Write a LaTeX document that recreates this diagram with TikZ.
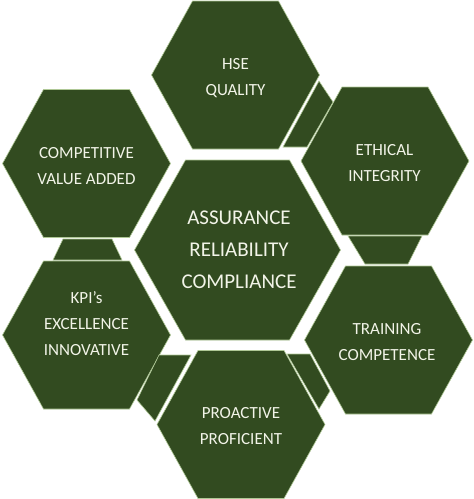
\documentclass[tikz,border=0pt]{standalone}
\usepackage{fontspec}
\setmainfont{Carlito}
\definecolor{hexgreen}{RGB}{50,75,32}
\definecolor{hexline}{RGB}{175,200,150}
\definecolor{hextext}{RGB}{242,244,232}
\begin{document}
\begin{tikzpicture}[x=1pt,y=-1pt,
  hexfill/.style={fill=hexgreen,draw=hexline,line width=0.6pt,line join=miter},
  outertext/.style={text=hextext,align=center,font=\fontsize{17}{26}\selectfont,inner sep=0pt},
  centertext/.style={text=hextext,align=center,font=\fontsize{21}{32}\selectfont,inner sep=0pt}]
\useasboundingbox (0,0) rectangle (474,499);
% outer hexagons
\foreach \cx/\cy in {235.5/75, 86.5/163.5, 385/161, 86.5/335, 388.5/340, 241/424.5}{
  \path[hexfill,shift={(\cx,\cy)}] (-84,0) -- (-43,74) -- (43,74) -- (84,0) -- (43,-74) -- (-43,-74) -- cycle;
}
% central hexagon
\path[hexfill,shift={(237.5,250)}] (-103,0) -- (-52,90) -- (52,90) -- (103,0) -- (52,-90) -- (-52,-90) -- cycle;
% connecting pieces
\path[hexfill] (319,81) -- (333,102) -- (307,147) -- (283,147) -- cycle;
\path[hexfill] (63,239) -- (112,239) -- (122,260) -- (53,260) -- cycle;
\path[hexfill] (348,236) -- (422,236) -- (408,264) -- (365,264) -- cycle;
\path[hexfill] (159,355) -- (191,355) -- (155,421) -- (137,400) -- cycle;
\path[hexfill] (287,354) -- (310,354) -- (330,391) -- (319,409) -- cycle;
% texts
\node[centertext] (core) at (239,250) {ASSURANCE\\RELIABILITY\\COMPLIANCE};
\node[outertext] (hse) at (235.5,78) {HSE\\QUALITY};
\node[outertext] (comp) at (86.5,166) {COMPETITIVE\\VALUE ADDED};
\node[outertext] (eth) at (384.5,163) {ETHICAL\\INTEGRITY};
\node[outertext] (kpi) at (86.5,324) {KPI’s\\EXCELLENCE\\INNOVATIVE};
\node[outertext] (train) at (387,342) {TRAINING\\COMPETENCE};
\node[outertext] (pro) at (241,426) {PROACTIVE\\PROFICIENT};
\end{tikzpicture}
\end{document}
